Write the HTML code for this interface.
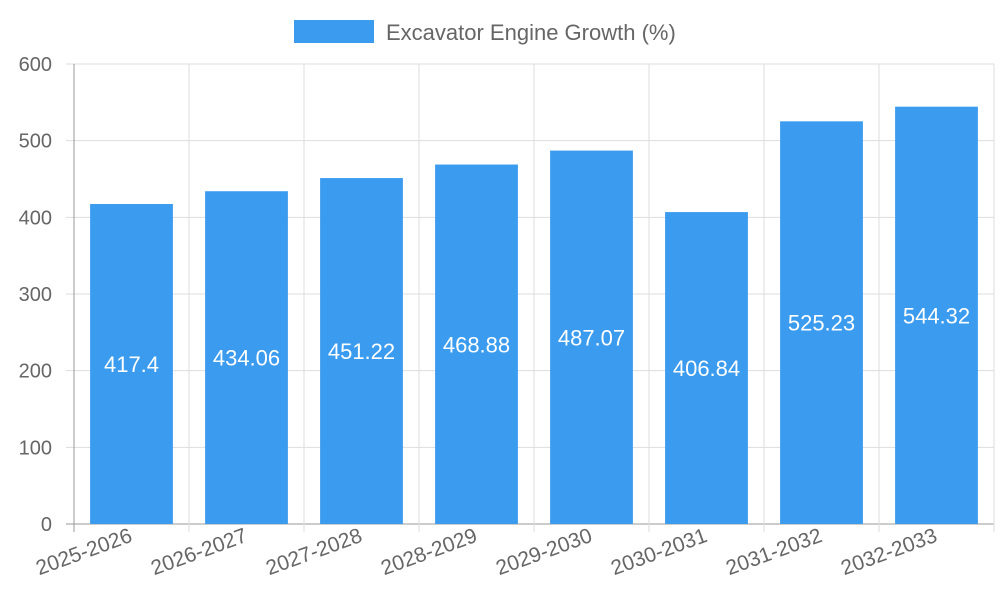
<!DOCTYPE html>
<html><head><meta charset="utf-8"><style>
html,body{margin:0;padding:0;background:#fff;}
svg{display:block;font-family:"Liberation Sans",sans-serif;}
</style></head><body>
<svg id="chart" width="1000" height="600">
<g id="grid"></g>
<g id="bars"></g>
<g id="labels"></g>
<g>
<rect x="294" y="20" width="80" height="23" fill="#3a9bef"></rect>
<text x="386" y="40" font-size="22" fill="#666">Excavator Engine Growth (%)</text>
</g>
</svg>
<script>
const categories = ["2025-2026","2026-2027","2027-2028","2028-2029","2029-2030","2030-2031","2031-2032","2032-2033"];
const values = [417.4,434.06,451.22,468.88,487.07,406.84,525.23,544.32];
const yTicks = [0,100,200,300,400,500,600];
const NS="http://www.w3.org/2000/svg";
const L=74,R=994,T=64,B=524,yMax=600;
const band=(R-L)/categories.length;
const y=v=>B-(v/yMax)*(B-T);
const xc=i=>L+band*(i+0.5);
function mk(tag,attrs,parent){const e=document.createElementNS(NS,tag);for(const k in attrs)e.setAttribute(k,attrs[k]);parent.appendChild(e);return e;}
const grid=document.getElementById('grid'),bars=document.getElementById('bars'),labels=document.getElementById('labels');
yTicks.forEach(t=>{
 const l=mk('line',{x1:L-8,x2:R,y1:y(t),y2:y(t),stroke:t===0?'#999':'#ddd','stroke-width':1},grid);
 
 
 const tx=mk('text',{x:52,y:y(t)+7,'text-anchor':'end','font-size':20,fill:'#666'},grid);
 tx.textContent=t;
 
 
});
for(let i=0;i<=categories.length;i++){
 const x=L+band*i;
 const l=mk('line',{x1:x,x2:x,y1:T,y2:B+8,stroke:i===0?'#999':'#ddd','stroke-width':1},grid);
 
 
}
const bw=band*0.72;
categories.forEach((c,i)=>{
 const v=values[i];
 const r=mk('rect',{x:xc(i)-bw/2,y:y(v),width:bw,height:B-y(v),fill:'#3a9bef'},bars);
 
 
 const vt=mk('text',{x:xc(i),y:(y(v)+B)/2+8,'text-anchor':'middle','font-size':22,fill:'#fff'},labels);
 vt.textContent=v;
 
 
 const xt=mk('text',{x:0,y:0,'text-anchor':'end','font-size':21,fill:'#666',transform:`translate(${xc(i)+2},${541}) rotate(-20)`},labels);
 xt.textContent=c;
 
 
});
</script>
</body></html>
